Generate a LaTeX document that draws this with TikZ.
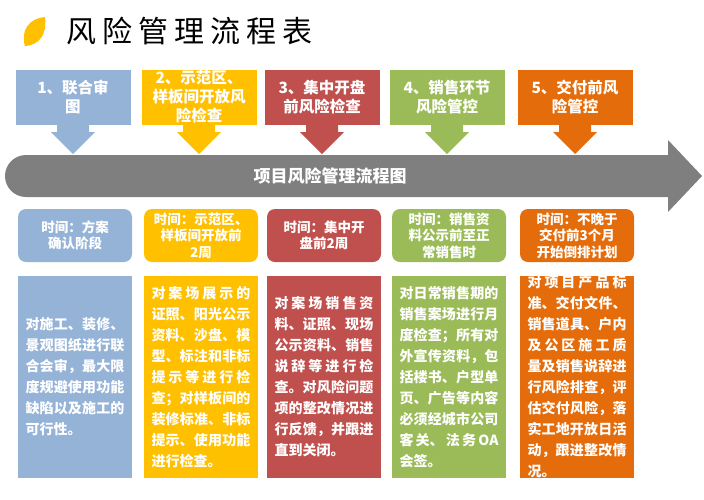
\documentclass[tikz,border=0pt]{standalone}
\usepackage{fontspec}
\setmainfont{Noto Sans CJK SC}
\XeTeXlinebreaklocale "zh"
\XeTeXlinebreakskip=0pt plus 1pt
\definecolor{cA}{HTML}{95B3D7}
\definecolor{cB}{HTML}{FFC000}
\definecolor{cC}{HTML}{C0504D}
\definecolor{cD}{HTML}{9BBB59}
\definecolor{cE}{HTML}{E46C0A}
\definecolor{gr}{HTML}{7F7F7F}
\tikzset{
 txt/.style={text=white,font=\bfseries\fontsize{15.5}{19}\selectfont,align=center,inner sep=0pt},
 body/.style={text=white,font=\bfseries\fontsize{14}{21}\selectfont,align=justify,inner sep=0pt,text width=99pt}
}
\begin{document}
\begin{tikzpicture}[x=1pt,y=-1pt]
\useasboundingbox (0,0) rectangle (704,499);
% title
\fill[cB] (25,46) .. controls (20,30) and (30,18) .. (45,17) .. controls (47,34) and (40,45) .. (25,46) -- cycle;
\node[anchor=west,font=\fontsize{30}{32}\selectfont,text=black] (title) at (63,31) {风\hspace{6pt}险\hspace{6pt}管\hspace{6pt}理\hspace{6pt}流\hspace{6pt}程\hspace{6pt}表};
% big arrow
\fill[gr] (26,176) circle[radius=21];
\fill[gr] (26,155) -- (668,155) -- (668,140) -- (702,176) -- (668,212) -- (668,197) -- (26,197) -- cycle;
\node[txt,font=\bfseries\fontsize{17}{19}\selectfont] (main) at (330,176) {项目风险管理流程图};
\foreach \i/\x/\c/\top/\tm/\bd in {
 1/16/cA/{1、联合审\\图}/{时间：方案\\确认阶段}/{对施工、装修、景观图纸进行联合会审，最大限度规避使用功能缺陷以及施工的可行性。},
 2/142/cB/{2、示范区、\\样板间开放风\\险检查}/{时间：示范区、\\样板间开放前\\2周}/{对案场展示的证照、阳光公示资料、沙盘、模型、标注和非标提示等进行检查；对样板间的装修标准、非标提示、使用功能进行检查。},
 3/265/cC/{3、集中开盘\\前风险检查}/{时间：集中开\\盘前2周}/{对案场销售资料、证照、现场公示资料、销售说辞等进行检查。对风险问题项的整改情况进行反馈，并跟进直到关闭。},
 4/390/cD/{4、销售环节\\风险管控}/{时间：销售资\\料公示前至正\\常销售时}/{对日常销售期的销售案场进行月度检查；所有对外宣传资料，包括楼书、户型单页、广告等内容必须经城市公司客关、法务OA会签。},
 5/518/cE/{5、交付前风\\险管控}/{时间：不晚于\\交付前3个月\\开始倒排计划}/{对项目产品标准、交付文件、销售道具、户内及公区施工质量及销售说辞进行风险排查，评估交付风险，落实工地开放日活动，跟进整改情况。}}{
 \pgfmathsetmacro\m{\x+57}
 \fill[\c] (\x,70) rectangle ++(115,55);
 \fill[\c] (\m-16,125) -- (\m+16,125) -- (\m+16,132) -- (\m+22,132) -- (\m,154) -- (\m-22,132) -- (\m-16,132) -- cycle;
 \node[txt] (t\i) at (\m,97) {\top};
 \fill[\c,rounded corners=8pt] (\x+2,209) rectangle ++(114,53);
 \node[txt,font=\bfseries\fontsize{13.5}{16.5}\selectfont] (m\i) at (\m+2,235.5) {\tm};
 \fill[\c] (\x+2,276) rectangle ++(114,202);
 \node[body,anchor=center] (b\i) at (\m+2,377) {\bd};
}
\end{tikzpicture}
\end{document}
